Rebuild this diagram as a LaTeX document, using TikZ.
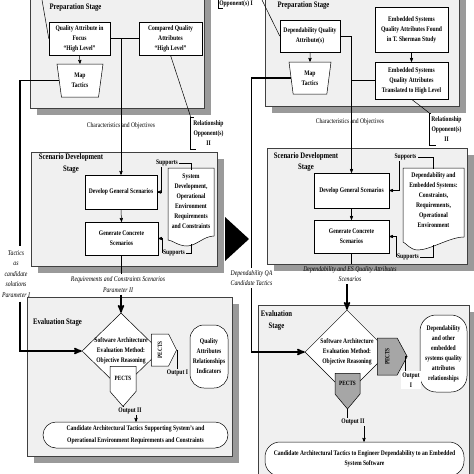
\documentclass[tikz,border=0pt]{standalone}
\usepackage{fontspec}
\setmainfont{Liberation Serif}[FakeStretch=0.8]
\usetikzlibrary{shapes.geometric,shapes.symbols,shadows,arrows}
\definecolor{stagegray}{HTML}{F0F0F0}
\definecolor{shadegray}{HTML}{9A9A9A}
\definecolor{pectsgray}{HTML}{A6A6A6}

\tikzset{
	stage/.style={draw=black!75,fill=stagegray,line width=0.5pt,inner sep=0pt,
		drop shadow={shadow xshift=7pt,shadow yshift=-7pt,fill=shadegray,opacity=1}},
	stagetitle/.style={align=center,inner sep=0pt,font=\fontsize{8.4}{11.5}\selectfont\bfseries},
	task/.style={draw,fill=white,align=center,inner sep=1pt,font=\fontsize{7}{10}\selectfont\bfseries},
	note/.style={align=center,inner sep=1pt,font=\fontsize{7}{10}\selectfont\bfseries},
	flowlabel/.style={align=center,inner sep=2pt,font=\fontsize{7.2}{10.5}\selectfont\itshape},
	maptac/.style={task,trapezium,trapezium stretches body},
	judge/.style={task,diamond,shape aspect=1,inner sep=-1pt},
	pects/.style={signal,signal to=south,draw,fill=white,inner sep=1pt,font=\fontsize{6.5}{8}\selectfont\bfseries},
	outcome/.style={task,inner sep=2pt},
	docshape/.style={draw,fill=white,line width=0.5pt},
	tacticflow/.style={line width=1.6pt},
}

\begin{document}
\begin{tikzpicture}[x=1pt,y=-1pt,>=stealth',line width=0.5pt]
	\useasboundingbox (0,0) rectangle (474,474);
	\clip (0,0) rectangle (474,474);

	% stage frames
	\node[stage,minimum width=174pt,minimum height=130pt] (prepL) at (117,43) {};
	\node[stage,minimum width=186pt,minimum height=114pt] (scenL) at (124,209) {};
	\node[stage,minimum width=205pt,minimum height=159pt] (evalL) at (129.5,376.5) {};
	\node[stage,minimum width=194pt,minimum height=128pt] (prepR) at (362,42) {};
	\node[stage,minimum width=200pt,minimum height=116pt] (scenR) at (367,206) {};
	\node[stage,minimum width=211pt,minimum height=195pt] (evalR) at (363.5,402.5) {};

	\node[stagetitle] (prepLtitle) at (75.5,8) {Preparation Stage};
	\node[stagetitle] (scenLtitle) at (71,163.5) {Scenario Development\\Stage};
	\node[stagetitle] (evalLtitle) at (57.5,323) {Evaluation Stage};
	\node[stagetitle] (prepRtitle) at (303.5,6) {Preparation Stage};
	\node[stagetitle] (scenRtitle) at (306,162) {Scenario Development\\Stage};
	\node[stagetitle] (evalRtitle) at (276.5,320.5) {Evaluation\\Stage};

	% documents
	\draw[docshape] (168,168) -- (214,168) -- (214,236) .. controls (204,236) and (196,246) .. (187,246) .. controls (178,246) and (172,240) .. (168,240) -- cycle;
	\draw[docshape] (403,168) -- (464,168) -- (464,237) .. controls (450,237) and (430,250) .. (418,250) .. controls (410,250) and (406,243) .. (403,242) -- cycle;

	% left side
	\coordinate (upL) at (42,0);
	\coordinate (tacLx) at (20,0);
	\node[task,minimum width=61pt,minimum height=33pt] (qaL) at (79.5,38.5) {Quality Attribute in\\Focus\\“High Level”};
	\node[task,minimum width=63pt,minimum height=33pt] (cqL) at (170.5,38.5) {Compared Quality\\Attributes\\“High Level”};
	\node[maptac,minimum width=46pt,minimum height=33pt,trapezium angle=105] (mapL) at (80,80.5) {Map\\Tactics};
	\node[note,font=\fontsize{7}{10}\selectfont] (charL) at (121,126) {Characteristics and Objectives};
	\node[note,inner xsep=2.5pt,inner ysep=3.5pt] (relL) at (208.5,133) {Relationship\\Opponent(s)\\II};
	\node[note] (oppTop) at (236,4) {Opponent(s) I};

	\node[task,minimum width=72pt,minimum height=34pt] (devL) at (121,192) {Develop General Scenarios};
	\node[task,minimum width=73pt,minimum height=33pt] (genL) at (121.5,238.5) {Generate Concrete\\Scenarios};
	\node[note,inner ysep=4pt] (docL) at (191,201.5) {System\\Development,\\Operational\\Environment\\Requirements\\and Constraints};
	\node[note] (supTL) at (167,163) {Supports};
	\node[note] (supBL) at (174,253) {Supports};
	\node[flowlabel] (reqL) at (118,284.5) {Requirements and Constraints Scenarios\\Parameter II};
	\node[flowlabel,inner ysep=4pt] (tacL) at (16,274) {Tactics\\as\\candidate\\solutions\\Parameter I};

	\node[judge,minimum width=78pt,minimum height=76pt] (diaL) at (121,351) {Software Architecture\\Evaluation Method:\\Objective Reasoning};
	\node[pects,rotate=90,anchor=north,minimum width=32pt,minimum height=22pt,signal pointer angle=127] (pectsSL) at (151,350) {PECTS};
	\node[pects,anchor=north,minimum width=26pt,minimum height=36pt,signal pointer angle=82] (pectsBL) at (123,366) {PECTS};
	\node[outcome,rounded corners=14pt,minimum width=38pt,minimum height=63pt] (qriL) at (209,356.5) {Quality\\Attributes\\Relationships\\Indicators};
	\node[note] (out1L) at (177.5,373) {Output I};
	\node[note] (out2L) at (130,410.5) {Output II};
	\node[outcome,rounded corners=13pt,minimum width=185pt,minimum height=26pt,font=\fontsize{7}{12}\selectfont\bfseries] (candL) at (135.5,435) {Candidate Architectural Tactics Supporting System's and\\Operational Environment Requirements and Constraints};

	% right side
	\coordinate (upR) at (262,0);
	\node[task,minimum width=60pt,minimum height=32pt] (depR) at (310,36) {Dependability Quality\\Attribute(s)};
	\node[task,minimum width=73pt,minimum height=45pt] (shR) at (411.5,29.5) {Embedded Systems\\Quality Attributes Found\\in T. Sherman Study};
	\node[task,minimum width=73pt,minimum height=37pt] (trR) at (411.5,80.5) {Embedded Systems\\Quality Attributes\\Translated to High Level};
	\node[maptac,minimum width=42pt,minimum height=32pt,trapezium angle=104] (mapR) at (310,78) {Map\\Tactics};
	\node[note,font=\fontsize{7}{10}\selectfont] (charR) at (350,122) {Characteristics and Objectives};
	\node[note,inner xsep=2pt,inner ysep=3.5pt] (relR) at (446.5,129) {Relationship\\Opponent(s)\\II};

	\node[task,minimum width=75pt,minimum height=35pt] (devR) at (351.5,190.5) {Develop General Scenarios};
	\node[task,minimum width=75pt,minimum height=33pt] (genR) at (351.5,236.5) {Generate Concrete\\Scenarios};
	\node[note,inner ysep=4pt] (docR) at (433.5,200.5) {Dependability and\\Embedded Systems:\\Constraints,\\Requirements,\\Operational\\Environment};
	\node[note] (supTR) at (405.5,157) {Supports};
	\node[note] (supBR) at (408,257) {Supports};
	\node[flowlabel] (depesR) at (350,274) {Dependability and ES Quality Attributes\\Scenarios};
	\node[flowlabel] (tacR) at (251.5,278) {Dependability QA\\Candidate Tactics};

	\node[judge,minimum width=84pt,minimum height=84pt] (diaR) at (347,352) {Software Architecture\\Evaluation Method:\\Objective Reasoning};
	\node[pects,fill=pectsgray,rotate=90,anchor=north,minimum width=37pt,minimum height=25pt,signal pointer angle=123] (pectsSR) at (377,356.5) {PECTS};
	\node[pects,fill=pectsgray,anchor=north,minimum width=25pt,minimum height=32pt,signal pointer angle=80] (pectsBR) at (347.5,373) {PECTS};
	\node[outcome,rounded corners=16pt,minimum width=47pt,minimum height=77pt] (qrR) at (443.5,353.5) {Dependability\\and other\\embedded\\systems quality\\attributes\\relationships};
	\node[note,fill=white,inner sep=1.5pt] (out1R) at (411,380) {Output\\I};
	\node[note] (out2R) at (353,422) {Output II};
	\node[outcome,rounded corners=15pt,minimum width=199pt,minimum height=34pt] (candR) at (364.5,459) {Candidate Architectural Tactics to Engineer Dependability to an Embedded\\System Software};

	% big arrow between the two methods
	\fill (225,217) -- (249,239) -- (225,261) -- cycle;

	% left connectors
	\draw (upL) -- (qaL.west);
	\draw (oppTop.north west) |- ([xshift=5pt]oppTop.south west);
	\draw[->] (qaL.south) -- (mapL.north);
	\draw (qaL.east) -- (cqL.west);
	\draw[->] (devL.north |- qaL.east) -- (devL.north);
	\draw (cqL.south) -- (relL.north west);
	\draw ([xshift=3pt]relL.north west) -- (relL.north west) -- (relL.south west) -- ([xshift=5pt]relL.south west);
	\draw[->] (devL.south) -- (genL.north);
	\draw (docL.north) |- (supTL.east);
	\draw[->] ([xshift=6pt]supTL.south west) |- (devL.east);
	\draw ([yshift=-11pt]docL.south) |- (supBL.east);
	\draw[->] (supBL.west) |- (genL.east);
	\draw[tacticflow] (genL.south) -- (genL.south |- reqL.north);
	\draw[tacticflow,->] (diaL.north |- reqL.south) -- (diaL.north);
	\draw[tacticflow] (mapL.west) -| (tacLx |- tacL.north);
	\draw[tacticflow,->] (tacLx |- tacL.south) |- (diaL.west);
	\draw (pectsSL.south) -- (pectsSL.south |- out1L.north);
	\draw (pectsBL.south) -- (pectsBL.south |- out2L.north);
	\coordinate (o2L) at ([xshift=6pt]out2L.south);
	\draw[->] (o2L) -- (o2L |- candL.north);

	% right connectors
	\draw (upR) -- (depR.west);
	\draw[->] (depR.south) -- (mapR.north);
	\draw[->] (shR.south) -- (trR.north);
	\draw[->] (depR.east) -| (devR.north);
	\draw (devR.north |- trR.west) -- (trR.west);
	\draw (trR.south) -- (relR.north west);
	\draw ([xshift=2pt]relR.north west) -- (relR.north west) -- (relR.south west) -- ([xshift=7pt]relR.south west);
	\draw[->] (devR.south) -- (genR.north);
	\draw (docR.north) |- (supTR.east);
	\draw[->] ([xshift=6pt]supTR.south west) |- (devR.east);
	\draw ([yshift=-13pt]docR.south) |- (supBR.east);
	\draw[->] (supBR.west) |- (genR.east);
	\draw[tacticflow] (genR.south) -- (genR.south |- depesR.north);
	\draw[tacticflow,->] (diaR.north |- depesR.south) -- (diaR.north);
	\draw[tacticflow] (mapR.west) -| (tacR.north);
	\draw[tacticflow,->] (tacR.south) |- (diaR.west);
	\draw (pectsSR.south) -| ([xshift=-6pt]out1R.north);
	\draw (pectsBR.south) -- (pectsBR.south |- out2R.north);
	\coordinate (o2R) at ([xshift=11pt]out2R.south);
	\draw[->] (o2R) -- (o2R |- candR.north);
\end{tikzpicture}
\end{document}
